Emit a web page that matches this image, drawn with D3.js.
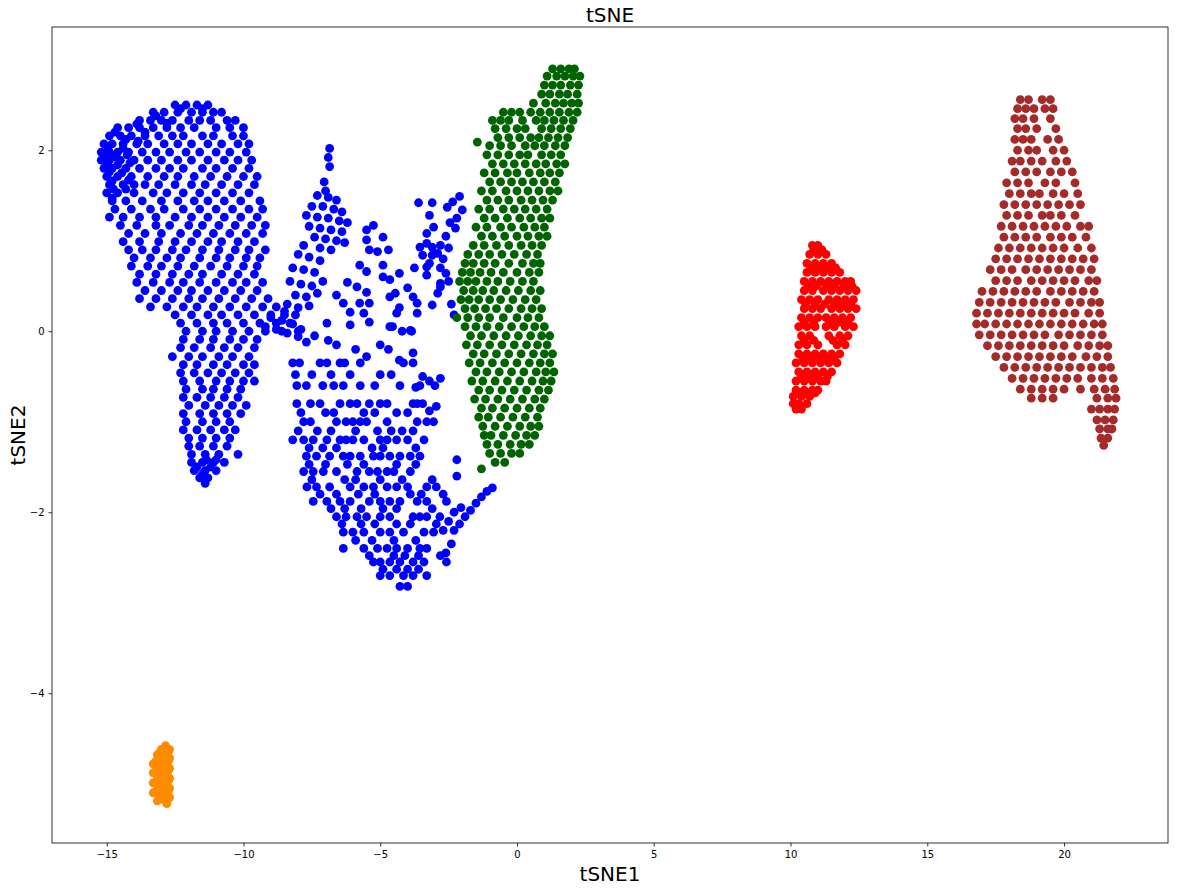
<!DOCTYPE html>
<html>
<head>
<meta charset="utf-8">
<script src="https://cdn.jsdelivr.net/npm/d3@7"></script>
<style>
  body { margin: 0; background: #fff; }
  text { font-family: "DejaVu Sans", sans-serif; }
</style>
</head>
<body>
<svg id="chart" width="1178" height="890"></svg>
<script>
// values, rows are [tSNE2, [tSNE1 ...]]
var xTicks = [-15, -10, -5, 0, 5, 10, 15, 20];
var yTicks = [2, 0, -2, -4];

var blueWingRows = [
  [2.50, [-12.5, -12.1, -11.7, -11.3]],
  [2.42, [-13.3, -12.9, -12.4, -11.9, -11.5, -11.1, -10.8]],
  [2.33, [-13.8, -13.4, -13.0, -12.6, -12.0, -11.6, -11.2, -10.6, -10.3]],
  [2.25, [-14.6, -14.2, -13.8, -13.3, -12.8, -12.3, -11.8, -11.0, -10.5, -10.0]],
  [2.16, [-14.9, -14.5, -14.1, -13.6, -13.1, -12.6, -12.2, -11.5, -11.1, -10.4, -10.0]],
  [2.07, [-15.1, -14.8, -14.4, -13.9, -13.5, -12.9, -12.4, -11.9, -11.3, -10.8, -10.2, -9.8]],
  [1.98, [-15.2, -14.9, -14.6, -14.2, -13.7, -13.2, -12.7, -12.1, -11.6, -11.0, -10.5, -9.9]],
  [1.89, [-15.2, -14.9, -14.5, -14.0, -13.5, -13.0, -12.4, -11.9, -11.3, -10.7, -10.2, -9.7]],
  [1.80, [-15.1, -14.8, -14.3, -13.8, -13.2, -12.7, -12.2, -11.5, -11.0, -10.4, -9.8]],
  [1.71, [-15.0, -14.6, -14.1, -13.5, -12.9, -12.4, -11.8, -11.2, -10.6, -10.0, -9.5]],
  [1.62, [-14.9, -14.4, -14.0, -13.6, -13.1, -12.5, -11.9, -11.4, -10.8, -10.2, -9.6]],
  [1.53, [-15.0, -14.6, -14.0, -13.3, -12.8, -12.2, -11.6, -11.0, -10.4, -9.8]],
  [1.44, [-14.8, -14.3, -13.7, -13.0, -12.4, -11.8, -11.3, -10.7, -10.1, -9.4]],
  [1.35, [-14.7, -14.1, -13.4, -12.9, -12.2, -11.6, -11.0, -10.4, -9.8, -9.3]],
  [1.26, [-14.9, -14.4, -13.8, -13.2, -12.5, -11.9, -11.3, -10.7, -10.1, -9.5]],
  [1.17, [-14.5, -13.9, -13.2, -12.7, -12.0, -11.5, -10.9, -10.3, -9.7, -9.2]],
  [1.08, [-14.2, -13.6, -13.0, -12.3, -11.7, -11.1, -10.5, -9.9, -9.3]],
  [0.99, [-14.4, -13.8, -13.1, -12.5, -11.9, -11.3, -10.8, -10.2, -9.6]],
  [0.90, [-14.2, -13.7, -13.2, -12.6, -12.1, -11.5, -10.9, -10.3, -9.8, -9.2]],
  [0.81, [-14.0, -13.4, -12.8, -12.3, -11.6, -11.0, -10.5, -9.9, -9.4]],
  [0.72, [-14.1, -13.5, -13.0, -12.4, -11.8, -11.2, -10.6, -10.0, -9.5]],
  [0.63, [-13.8, -13.2, -12.6, -12.0, -11.5, -10.8, -10.2, -9.6]],
  [0.54, [-13.9, -13.3, -12.7, -12.2, -11.6, -11.0, -10.4, -9.9, -9.3]],
  [0.45, [-13.6, -13.0, -12.4, -11.9, -11.3, -10.7, -10.1, -9.5]],
  [0.36, [-13.8, -13.2, -12.6, -12.0, -11.5, -10.9, -10.3, -9.7, -9.1]],
  [0.27, [-13.4, -12.8, -12.2, -11.7, -11.1, -10.5, -9.9, -9.3, -8.8]],
  [0.18, [-12.5, -11.9, -11.3, -10.8, -10.2, -9.6, -9.0, -8.5]],
  [0.09, [-12.3, -11.7, -11.1, -10.6, -10.0, -9.4, -8.8, -8.3]],
  [0.00, [-12.1, -11.5, -11.0, -10.4, -9.8, -9.2, -8.6, -8.0]],
  [-0.09, [-12.2, -11.6, -11.1, -10.5, -10.0, -9.5]],
  [-0.18, [-12.3, -11.8, -11.2, -10.7, -10.2, -9.6]],
  [-0.28, [-12.6, -12.0, -11.5, -10.9, -10.4, -9.8]],
  [-0.37, [-12.2, -11.7, -11.1, -10.6, -10.0, -9.6]],
  [-0.46, [-12.3, -11.8, -11.3, -10.8, -10.3, -9.8]],
  [-0.55, [-12.2, -11.6, -11.0, -10.5, -10.0, -9.6]],
  [-0.64, [-12.1, -11.5, -11.1, -10.6, -10.1]],
  [-0.73, [-12.2, -11.7, -11.2, -10.7, -10.2]],
  [-0.82, [-12.0, -11.4, -10.9, -10.4, -9.9]],
  [-0.91, [-12.2, -11.6, -11.1, -10.6, -10.1]],
  [-1.00, [-12.1, -11.5, -11.0, -10.5]],
  [-1.09, [-12.2, -11.7, -11.2, -10.7, -10.3]],
  [-1.18, [-12.0, -11.5, -11.0, -10.5]],
  [-1.27, [-12.0, -11.6, -11.1, -10.6]],
  [-1.36, [-11.9, -11.4, -10.9, -10.2]],
  [-1.45, [-11.9, -11.5, -11.1, -10.7]],
  [-1.54, [-11.8, -11.4, -11.0]],
  [-1.62, [-11.6, -11.3]],
  [-1.68, [-11.4]]
];

// the packed patches: top-left of the wing and foot of the leg
var blueDensePairs = [
  [-14.7, 2.2], [-14.3, 2.12], [-14.95, 2.03], [-14.4, 2.02], [-15.05, 1.94], [-14.7, 1.93],
  [-14.25, 1.95], [-15.0, 1.85], [-14.6, 1.84], [-14.15, 1.86], [-14.9, 1.76], [-14.45, 1.75],
  [-14.8, 1.66], [-14.2, 1.67], [-14.75, 1.57], [-14.3, 1.57], [-14.8, 1.47], [-13.9, 2.29],
  [-13.6, 2.2], [-13.2, 2.38], [-13.85, 2.1], [-12.3, 2.46], [-11.5, 2.46], [-12.8, 2.3],
  [-11.7, -1.5], [-11.5, -1.58], [-11.2, -1.5], [-11.0, -1.42], [-11.35, -1.42]
];

var blueMiddlePairs = [
  [-6.85, 2.02], [-6.9, 1.92], [-6.85, 1.82], [-7.05, 1.65], [-7.0, 1.55],
  [-7.3, 1.5], [-6.9, 1.48], [-6.6, 1.45], [-7.5, 1.38], [-7.1, 1.38], [-6.7, 1.35],
  [-6.4, 1.32], [-7.7, 1.28], [-7.3, 1.26], [-6.9, 1.25], [-6.5, 1.22], [-6.2, 1.2],
  [-7.6, 1.16], [-7.2, 1.14], [-6.8, 1.12], [-6.4, 1.1], [-7.4, 1.04], [-7.0, 1.02],
  [-6.6, 1.0], [-6.3, 0.98], [-7.8, 0.95], [-7.2, 0.92], [-6.8, 0.9],
  [-8.0, 0.85], [-7.6, 0.82], [-7.2, 0.78], [-8.2, 0.7], [-7.8, 0.68], [-7.4, 0.65],
  [-8.3, 0.55], [-7.9, 0.52], [-7.5, 0.5], [-7.1, 0.55], [-8.1, 0.4], [-7.7, 0.38],
  [-7.3, 0.42], [-8.4, 0.3], [-8.0, 0.26], [-7.6, 0.28],
  [-9.0, 0.15], [-8.6, 0.12], [-8.2, 0.08], [-7.9, 0.02], [-8.8, 0.02], [-8.4, -0.02],
  [-8.0, -0.06], [-9.2, 0.05], [-8.5, 0.22], [-8.1, 0.18],
  [-5.5, 1.12], [-5.25, 1.17], [-4.9, 1.04], [-5.5, 1.01], [-5.4, 0.9], [-5.1, 0.88],
  [-4.7, 0.9], [-5.75, 0.73], [-4.9, 0.73], [-5.5, 0.66], [-6.2, 0.54], [-5.85, 0.49],
  [-5.5, 0.43], [-6.6, 0.4], [-6.35, 0.31], [-6.1, 0.21], [-5.75, 0.31], [-5.4, 0.31],
  [-5.6, 0.2], [-5.4, 0.1], [-6.1, 0.07], [-6.95, 0.09], [-4.9, 0.6], [-4.65, 0.57],
  [-4.3, 0.64], [-4.65, 0.38], [-4.45, 0.42], [-4.3, 0.26], [-4.4, 0.2], [-4.55, 0.05],
  [-4.2, 0.0], [-3.85, 0.0], [-4.0, 0.48], [-3.8, 0.38], [-3.65, 0.31], [-3.65, 0.2],
  [-3.75, 0.7], [-3.3, 0.71], [-3.1, 0.29], [-2.9, 0.42], [-2.8, 0.49],
  [-3.6, 1.42], [-3.1, 1.42], [-2.55, 1.37], [-2.35, 1.43], [-2.1, 1.49], [-2.0, 1.34],
  [-3.2, 1.28], [-2.2, 1.25], [-2.25, 1.14], [-3.05, 1.15], [-3.3, 1.08], [-3.55, 0.93],
  [-3.3, 0.97], [-3.1, 0.93], [-2.8, 0.95], [-3.45, 0.84], [-3.1, 0.84], [-2.9, 0.86],
  [-2.5, 0.92], [-3.2, 0.75], [-3.3, 0.62], [-2.8, 0.7], [-2.6, 0.64], [-2.8, 0.53],
  [-2.45, 1.2], [-2.6, 1.05], [-2.7, 0.8], [-2.5, 0.55], [-2.4, 0.3], [-2.3, 0.18],
  [-7.7, -0.12], [-7.4, -0.05], [-6.9, -0.1], [-6.6, -0.15], [-6.3, -0.35], [-5.9, -0.2],
  [-5.5, -0.28], [-4.65, 0.05], [-4.3, -0.32], [-3.9, 0.01], [-3.8, -0.24], [-5.0, -0.15],
  [-4.7, -0.2], [-2.8, -0.52], [-2.2, -1.42], [-2.2, -1.6],
  [-3.45, -0.5], [-3.2, -0.55], [-3.7, -0.62], [-3.45, -0.8], [-3.2, -0.88], [-2.95, -0.83],
  [-0.9, -1.73], [-1.1, -1.77], [-1.3, -1.83], [-1.5, -1.9], [-1.7, -1.98], [-1.9, -2.05],
  [-2.1, -2.13], [-2.3, -2.2], [-2.05, -1.95], [-2.3, -2.0], [-2.5, -2.1], [-2.7, -2.2],
  [-2.4, -2.35], [-2.6, -2.45]
];

var blueLowerRows = [
  [-0.35, [-8.2, -7.95, -7.2, -6.95, -6.47, -5.73, -4.15, -3.8]],
  [-0.60, [-8.05, -7.7, -7.1, -6.7, -6.35, -5.73, -5.2, -4.28, -3.55, -3.0]],
  [-0.48, [-8.1, -7.5, -6.8, -6.1, -5.0, -4.6]],
  [-0.80, [-8.05, -7.55, -7.2, -6.47, -6.1, -5.85, -5.4, -5.0, -4.75, -3.8, -3.65]],
  [-0.90, [-7.9, -7.0, -6.7, -5.6, -5.2, -4.4, -4.0]],
  [-1.00, [-7.8, -7.55, -6.6, -6.25, -6.0, -5.73, -5.5, -4.75, -3.65, -3.3, -3.05]],
  [-1.10, [-8.0, -7.3, -6.8, -5.9, -5.1, -4.6, -4.2, -3.8]],
  [-1.20, [-8.2, -7.8, -7.45, -6.95, -6.47, -6.25, -6.0, -5.6, -5.0, -4.75, -4.4, -4.0, -3.4]],
  [-1.29, [-7.6, -7.1, -6.6, -5.3, -4.9, -3.7]],
  [-1.38, [-7.7, -7.33, -6.85, -6.35, -6.1, -5.73, -5.25, -5.0, -4.65, -4.28, -3.9, -3.55]],
  [-1.47, [-7.6, -7.0, -6.2, -5.6, -4.4, -3.7]],
  [-1.55, [-7.8, -7.45, -7.08, -6.6, -5.85, -5.4, -5.1, -4.75, -4.5, -3.9]],
  [-1.64, [-7.5, -6.3, -5.9, -5.0, -4.2, -3.1]],
  [-1.72, [-7.68, -7.33, -6.85, -6.1, -5.6, -5.25, -4.75, -4.4, -4.0, -3.3, -2.95]],
  [-1.80, [-7.2, -6.6, -5.8, -5.2, -3.9, -3.5, -2.7]],
  [-1.88, [-7.45, -6.95, -6.47, -6.1, -5.4, -5.0, -4.65, -4.28, -3.65, -3.3, -2.58]],
  [-1.96, [-6.8, -6.3, -5.7, -4.9, -4.4, -3.1]],
  [-2.05, [-6.6, -6.25, -5.85, -5.5, -5.0, -4.65, -3.8, -3.55, -3.3, -2.82]],
  [-2.13, [-6.4, -5.7, -5.2, -4.4, -3.9, -2.95]],
  [-2.22, [-6.35, -6.0, -5.6, -5.0, -4.65, -4.15, -3.4, -3.05]],
  [-2.31, [-5.9, -5.3, -4.5, -3.7]],
  [-2.40, [-6.35, -5.6, -5.1, -4.75, -4.4, -4.0, -3.55, -3.3]],
  [-2.48, [-5.4, -4.5, -4.1, -3.6, -2.8]],
  [-2.55, [-5.25, -5.0, -4.65, -4.28, -3.8, -3.4, -2.58]],
  [-2.63, [-4.9, -4.4, -4.0, -3.6]],
  [-2.70, [-5.0, -4.65, -4.15, -3.8, -3.3]],
  [-2.82, [-4.28, -4.0]]
];

var greenRows = [
  [2.90, [1.3, 1.6, 1.9, 2.1]],
  [2.82, [1.1, 1.45, 1.75, 2.05, 2.3]],
  [2.72, [1.0, 1.3, 1.6, 1.95, 2.25]],
  [2.62, [0.9, 1.2, 1.55, 1.85, 2.2]],
  [2.52, [0.6, 1.05, 1.4, 1.7, 2.0, 2.25]],
  [2.42, [-0.5, -0.2, 0.1, 0.5, 0.85, 1.2, 1.55, 1.9, 2.2]],
  [2.33, [-0.9, -0.6, -0.3, 0.2, 0.7, 1.0, 1.35, 1.7, 2.05]],
  [2.24, [-0.8, -0.4, 0.0, 0.3, 0.9, 1.25, 1.6, 1.95]],
  [2.14, [-0.7, -0.3, 0.1, 0.5, 0.8, 1.15, 1.5, 1.85]],
  [2.05, [-1.0, -0.6, -0.2, 0.3, 0.65, 1.0, 1.4, 1.75]],
  [1.95, [-1.1, -0.7, -0.3, 0.1, 0.4, 0.9, 1.25, 1.6]],
  [1.85, [-0.9, -0.5, -0.1, 0.3, 0.7, 1.05, 1.45, 1.75]],
  [1.75, [-1.2, -0.8, -0.35, 0.0, 0.45, 0.85, 1.2, 1.55]],
  [1.65, [-1.0, -0.6, -0.2, 0.2, 0.6, 1.0, 1.4]],
  [1.55, [-1.3, -0.9, -0.4, 0.0, 0.4, 0.8, 1.2, 1.5]],
  [1.45, [-1.1, -0.7, -0.3, 0.15, 0.55, 0.95, 1.3]],
  [1.35, [-1.4, -1.0, -0.5, -0.1, 0.3, 0.7, 1.1]],
  [1.25, [-1.2, -0.8, -0.35, 0.1, 0.5, 0.9, 1.2]],
  [1.15, [-1.5, -1.1, -0.6, -0.2, 0.25, 0.65, 1.0]],
  [1.05, [-1.3, -0.9, -0.45, 0.0, 0.4, 0.8, 1.1]],
  [0.95, [-1.6, -1.2, -0.75, -0.3, 0.15, 0.55, 0.9]],
  [0.85, [-1.8, -1.4, -1.0, -0.55, -0.1, 0.35, 0.75]],
  [0.75, [-1.9, -1.6, -1.2, -0.8, -0.3, 0.2, 0.6, 0.85]],
  [0.65, [-2.0, -1.7, -1.35, -0.95, -0.5, 0.0, 0.45, 0.8]],
  [0.55, [-2.1, -1.8, -1.5, -1.1, -0.7, -0.25, 0.2, 0.6]],
  [0.45, [-1.95, -1.6, -1.25, -0.85, -0.4, 0.05, 0.5, 0.85]],
  [0.35, [-2.05, -1.75, -1.4, -1.0, -0.6, -0.15, 0.3, 0.7]],
  [0.25, [-1.9, -1.55, -1.15, -0.75, -0.3, 0.15, 0.55, 0.9]],
  [0.15, [-2.2, -1.8, -1.4, -1.0, -0.5, 0.0, 0.4, 0.8]],
  [0.05, [-1.9, -1.5, -1.1, -0.65, -0.2, 0.25, 0.65, 1.0]],
  [-0.05, [-1.7, -1.3, -0.85, -0.4, 0.05, 0.5, 0.9, 1.2]],
  [-0.15, [-1.85, -1.45, -1.0, -0.55, -0.1, 0.35, 0.75, 1.1]],
  [-0.25, [-1.6, -1.2, -0.75, -0.3, 0.15, 0.6, 1.0, 1.3]],
  [-0.35, [-1.75, -1.35, -0.9, -0.45, 0.0, 0.45, 0.85, 1.2]],
  [-0.45, [-1.5, -1.1, -0.65, -0.2, 0.25, 0.7, 1.05, 1.35]],
  [-0.55, [-1.65, -1.25, -0.8, -0.35, 0.1, 0.55, 0.95, 1.25]],
  [-0.65, [-1.4, -1.0, -0.55, -0.1, 0.35, 0.8, 1.15]],
  [-0.75, [-1.55, -1.15, -0.7, -0.25, 0.2, 0.65, 1.0]],
  [-0.85, [-1.3, -0.9, -0.45, 0.0, 0.45, 0.85]],
  [-0.95, [-1.4, -1.05, -0.6, -0.15, 0.3, 0.75]],
  [-1.05, [-1.25, -0.8, -0.35, 0.1, 0.5, 0.8]],
  [-1.15, [-1.2, -0.95, -0.5, -0.05, 0.35, 0.65]],
  [-1.25, [-1.1, -0.7, -0.25, 0.15, 0.45]],
  [-1.35, [-1.0, -0.6, -0.2, 0.1]],
  [-1.45, [-0.8, -0.45]],
  [-1.52, [-1.3]],
  [2.09, [-1.45]]
];

var redRows = [
  [0.95, [10.8, 11.0]],
  [0.90, [10.85, 11.15]],
  [0.85, [10.7, 11.0, 11.3]],
  [0.75, [10.6, 10.9, 11.2, 11.5]],
  [0.70, [10.75, 11.05, 11.35, 11.65]],
  [0.65, [10.6, 10.9, 11.2, 11.5, 11.8]],
  [0.55, [10.5, 10.8, 11.1, 11.4, 11.7, 12.0, 12.2]],
  [0.50, [10.65, 10.95, 11.3, 11.6, 11.95, 12.25]],
  [0.45, [10.5, 10.8, 11.2, 11.5, 11.8, 12.1, 12.4]],
  [0.35, [10.4, 10.7, 11.0, 11.4, 11.7, 12.0, 12.3]],
  [0.30, [10.55, 10.9, 11.25, 11.6, 11.9, 12.2]],
  [0.25, [10.5, 10.8, 11.1, 11.5, 11.8, 12.1, 12.4]],
  [0.15, [10.4, 10.7, 11.0, 11.3, 11.6, 11.9, 12.2]],
  [0.10, [10.5, 10.85, 11.45, 11.8, 12.1]],
  [0.05, [10.3, 10.6, 10.9, 11.3, 11.6, 12.0, 12.3]],
  [-0.05, [10.4, 10.7, 11.4, 11.8, 12.1]],
  [-0.10, [10.5, 10.85, 11.55, 11.9]],
  [-0.15, [10.3, 10.6, 11.0, 11.7, 12.0]],
  [-0.25, [10.3, 10.6, 10.9, 11.2, 11.5, 11.8]],
  [-0.30, [10.45, 10.75, 11.05, 11.35, 11.6]],
  [-0.35, [10.2, 10.5, 10.8, 11.1, 11.4, 11.7]],
  [-0.45, [10.3, 10.6, 10.9, 11.2, 11.5]],
  [-0.50, [10.4, 10.7, 11.0, 11.35]],
  [-0.55, [10.2, 10.5, 10.8, 11.1, 11.3]],
  [-0.65, [10.2, 10.5, 10.8, 11.0]],
  [-0.68, [10.3, 10.6, 10.9]],
  [-0.72, [10.1, 10.4, 10.7]],
  [-0.80, [10.1, 10.3, 10.6]],
  [-0.86, [10.2, 10.4]]
];

var brownRows = [
  [2.56, [18.4, 18.7, 19.2, 19.5]],
  [2.46, [18.3, 18.6, 18.9, 19.3, 19.6]],
  [2.35, [18.2, 18.5, 18.9, 19.5]],
  [2.24, [18.3, 18.6, 19.0, 19.7]],
  [2.12, [18.2, 18.5, 18.8, 19.4, 19.8]],
  [2.00, [18.3, 18.7, 19.0, 19.6, 20.0]],
  [1.88, [18.1, 18.4, 18.8, 19.2, 19.7, 20.1]],
  [1.76, [18.2, 18.6, 19.0, 19.5, 19.9, 20.3]],
  [1.64, [17.9, 18.3, 18.7, 19.3, 19.7, 20.4]],
  [1.52, [18.0, 18.4, 18.8, 19.1, 19.6, 20.0, 20.5]],
  [1.40, [17.8, 18.2, 18.6, 19.0, 19.4, 19.8, 20.2, 20.6]],
  [1.28, [17.9, 18.3, 18.7, 19.2, 19.5, 19.9, 20.4]],
  [1.16, [17.7, 18.1, 18.5, 18.9, 19.3, 19.7, 20.1, 20.6, 20.9]],
  [1.04, [17.8, 18.2, 18.6, 19.0, 19.5, 19.9, 20.3, 20.8]],
  [0.92, [17.6, 18.0, 18.4, 18.8, 19.2, 19.6, 20.0, 20.5, 21.0]],
  [0.80, [17.5, 17.9, 18.3, 18.7, 19.1, 19.5, 19.9, 20.3, 20.7, 21.1]],
  [0.68, [17.3, 17.7, 18.1, 18.6, 19.0, 19.4, 19.8, 20.2, 20.6, 21.0]],
  [0.56, [17.5, 17.9, 18.3, 18.8, 19.2, 19.6, 20.0, 20.4, 20.9, 21.2]],
  [0.44, [17.0, 17.4, 17.8, 18.2, 18.6, 19.0, 19.5, 19.9, 20.3, 20.7, 21.1]],
  [0.32, [16.9, 17.3, 17.7, 18.1, 18.5, 18.9, 19.3, 19.7, 20.2, 20.6, 21.0, 21.3]],
  [0.20, [16.8, 17.2, 17.6, 18.0, 18.4, 18.8, 19.2, 19.6, 20.0, 20.4, 20.9, 21.3]],
  [0.08, [16.8, 17.1, 17.5, 17.9, 18.3, 18.7, 19.1, 19.5, 19.9, 20.3, 20.7, 21.1, 21.4]],
  [-0.04, [16.9, 17.3, 17.7, 18.1, 18.5, 18.9, 19.3, 19.8, 20.2, 20.6, 21.0, 21.4]],
  [-0.16, [17.2, 17.6, 18.0, 18.4, 18.8, 19.2, 19.6, 20.0, 20.5, 20.9, 21.3, 21.6]],
  [-0.28, [17.5, 17.9, 18.3, 18.7, 19.1, 19.5, 19.9, 20.3, 20.8, 21.2, 21.6]],
  [-0.40, [17.8, 18.2, 18.6, 19.0, 19.4, 19.8, 20.2, 20.6, 21.0, 21.4, 21.7]],
  [-0.52, [18.1, 18.5, 18.9, 19.3, 19.7, 20.1, 20.5, 21.0, 21.4, 21.8]],
  [-0.64, [18.4, 18.8, 19.2, 19.6, 20.0, 20.6, 21.1, 21.5, 21.85]],
  [-0.74, [18.8, 19.2, 19.6, 21.2, 21.6, 21.9]],
  [-0.86, [21.0, 21.3, 21.6, 21.85]],
  [-0.98, [21.2, 21.5, 21.8]],
  [-1.08, [21.3, 21.6, 21.75]],
  [-1.18, [21.35, 21.6]],
  [-1.26, [21.45]]
];

var orangeRows = [
  [-4.58, [-12.85]],
  [-4.62, [-13.0, -12.7]],
  [-4.65, [-13.05, -12.75]],
  [-4.68, [-13.15, -12.85]],
  [-4.72, [-13.0, -12.7]],
  [-4.75, [-13.2, -12.95, -12.75]],
  [-4.78, [-13.3, -13.15, -12.85]],
  [-4.83, [-13.0, -12.7]],
  [-4.86, [-13.2, -12.95, -12.75]],
  [-4.88, [-13.3, -13.15, -12.85]],
  [-4.94, [-13.0, -12.7]],
  [-4.97, [-13.2, -12.95, -12.75]],
  [-4.99, [-13.3, -13.15, -12.85]],
  [-5.05, [-13.0, -12.7]],
  [-5.08, [-13.2, -12.95, -12.75]],
  [-5.10, [-13.3, -13.15, -12.85]],
  [-5.15, [-13.0, -12.7]],
  [-5.17, [-12.95, -12.75]],
  [-5.19, [-13.15, -12.85]],
  [-5.22, [-12.8]]
];

var rowsToPoints = function (rows) {
  return rows.flatMap(function (r) {
    return r[1].map(function (x) { return [x, r[0]]; });
  });
};

var groups = [
  { color: '#0000ff', points: rowsToPoints(blueWingRows).concat(blueDensePairs, blueMiddlePairs, rowsToPoints(blueLowerRows)) },
  { color: '#006400', points: rowsToPoints(greenRows) },
  { color: '#ff0000', points: rowsToPoints(redRows) },
  { color: '#a52a2a', points: rowsToPoints(brownRows) },
  { color: '#ff8c00', points: rowsToPoints(orangeRows) }
];

var margin = { top: 27, right: 10, bottom: 47, left: 52 },
  width = 1178 - margin.left - margin.right,
  height = 890 - margin.top - margin.bottom;

var svg = d3.select('#chart');
var g = svg.append('g').attr('transform', 'translate(' + margin.left + ',' + margin.top + ')');

var x = d3.scaleLinear().domain([-17.0, 23.8]).range([0, width]);
var y = d3.scaleLinear().domain([-5.655, 3.362]).range([height, 0]);

groups.forEach(function (grp) {
  g.append('g')
    .selectAll('circle')
    .data(grp.points)
    .enter()
    .append('circle')
    .attr('cx', function (d) { return x(d[0]); })
    .attr('cy', function (d) { return y(d[1]); })
    .attr('r', 4.4)
    .style('fill', grp.color);
});

var xAxis = g.append('g')
  .attr('transform', 'translate(0,' + height + ')')
  .call(d3.axisBottom(x).tickValues(xTicks).tickSize(3.5).tickPadding(4).tickFormat(d3.format('d')));
var yAxis = g.append('g')
  .call(d3.axisLeft(y).tickValues(yTicks).tickSize(3.5).tickPadding(4).tickFormat(d3.format('d')));

[xAxis, yAxis].forEach(function (a) {
  a.select('.domain').remove();
  a.selectAll('text').style('font-size', '10px').style('font-family', '"DejaVu Sans", sans-serif').attr('fill', '#000');
  a.selectAll('line').attr('stroke', '#000').attr('stroke-width', 0.8);
});

g.append('rect')
  .attr('width', width)
  .attr('height', height)
  .style('fill', 'none')
  .style('stroke', '#000')
  .style('stroke-width', 0.8);

svg.append('text')
  .attr('x', margin.left + width / 2)
  .attr('y', 22)
  .attr('text-anchor', 'middle')
  .style('font-size', '20px')
  .text('tSNE');

svg.append('text')
  .attr('x', margin.left + width / 2)
  .attr('y', 881)
  .attr('text-anchor', 'middle')
  .style('font-size', '20px')
  .text('tSNE1');

svg.append('text')
  .attr('transform', 'translate(25,' + (margin.top + height / 2) + ') rotate(-90)')
  .attr('text-anchor', 'middle')
  .style('font-size', '20px')
  .text('tSNE2');
</script>
</body>
</html>
